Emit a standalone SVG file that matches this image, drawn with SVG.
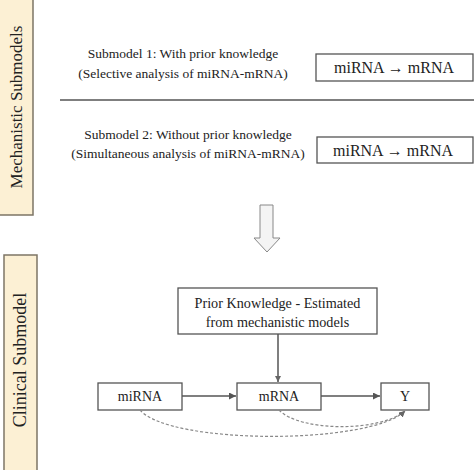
<svg xmlns="http://www.w3.org/2000/svg" width="474" height="470" viewBox="0 0 474 470">
<style>
.bar{fill:#fcf0d4;stroke:#7d7565;stroke-width:1.5}
.t{font-family:"Liberation Serif",serif;fill:#222}
.box{fill:#fff;stroke:#555;stroke-width:1.3}
.ln{stroke:#555;stroke-width:1.5;fill:none}
.dash{stroke:#888;stroke-width:1.2;fill:none;stroke-dasharray:3 2}
</style>
<defs>
<marker id="ah" viewBox="0 0 10 10" refX="10" refY="5" markerWidth="9" markerHeight="7" markerUnits="userSpaceOnUse" orient="auto"><path d="M0,0L10,5L0,10z" fill="#555"/></marker>
<marker id="ahs" viewBox="0 0 10 10" refX="10" refY="5" markerWidth="6" markerHeight="6" markerUnits="userSpaceOnUse" orient="auto"><path d="M0,0L10,5L0,10z" fill="#666"/></marker>
</defs>
<rect width="474" height="470" fill="#fff"/>
<g id="bar-mech">
<rect class="bar" x="-2" y="-2" width="35" height="217"/>
<text class="t" font-size="17" transform="translate(22,107) rotate(-90)" text-anchor="middle">Mechanistic Submodels</text>
</g>
<g id="bar-clin">
<rect class="bar" x="4" y="255" width="33" height="218"/>
<text class="t" font-size="18" transform="translate(26,360) rotate(-90)" text-anchor="middle">Clinical Submodel</text>
</g>
<g id="sub1">
<text class="t" font-size="13.5" x="183" y="58" text-anchor="middle">Submodel 1: With prior knowledge</text>
<text class="t" font-size="13.5" x="183" y="78" text-anchor="middle">(Selective analysis of miRNA-mRNA)</text>
</g>
<g id="box1">
<rect class="box" x="316" y="54" width="157" height="27"/>
<text class="t" font-size="16" x="394" y="73" text-anchor="middle">miRNA  →  mRNA</text>
</g>
<line x1="60" y1="100" x2="474" y2="100" stroke="#555" stroke-width="1.5"/>
<g id="sub2">
<text class="t" font-size="13.5" x="188" y="139" text-anchor="middle">Submodel 2: Without prior knowledge</text>
<text class="t" font-size="13.5" x="188" y="158" text-anchor="middle">(Simultaneous analysis of miRNA-mRNA)</text>
</g>
<g id="box2">
<rect class="box" x="317" y="137" width="156" height="26"/>
<text class="t" font-size="16" x="393" y="156" text-anchor="middle">miRNA → mRNA</text>
</g>
<g id="block-arrow">
<path d="M260,205 L273,205 L273,238 L280,238 L267,252 L254,238 L260,238 Z" fill="#f4f4f4" stroke="#888" stroke-width="1"/>
</g>
<g id="prior">
<rect class="box" x="178" y="288" width="199" height="46"/>
<text class="t" font-size="14.2" x="277.5" y="308" text-anchor="middle">Prior Knowledge - Estimated</text>
<text class="t" font-size="14.2" x="277.5" y="327" text-anchor="middle">from mechanistic models</text>
</g>
<g id="mirna">
<rect class="box" x="98" y="383" width="84" height="27"/>
<text class="t" font-size="14" x="140" y="401" text-anchor="middle">miRNA</text>
</g>
<g id="mrna">
<rect class="box" x="237" y="383" width="84" height="27"/>
<text class="t" font-size="14" x="279" y="401" text-anchor="middle">mRNA</text>
</g>
<g id="y">
<rect class="box" x="381" y="383" width="48" height="27"/>
<text class="t" font-size="14" x="405" y="401" text-anchor="middle">Y</text>
</g>
<g id="connectors">
<line class="ln" x1="278" y1="334" x2="278" y2="382" stroke-width="1" marker-end="url(#ahs)"/>
<line class="ln" x1="182" y1="396" x2="236" y2="396" marker-end="url(#ah)"/>
<line class="ln" x1="321" y1="396" x2="380" y2="396" marker-end="url(#ah)"/>
<path class="dash" d="M140,410 C170,445 370,445 405,411" marker-end="url(#ahs)"/>
<path class="dash" d="M279,410 C300,432 380,432 405,411" marker-end="url(#ahs)"/>
</g>
</svg>
